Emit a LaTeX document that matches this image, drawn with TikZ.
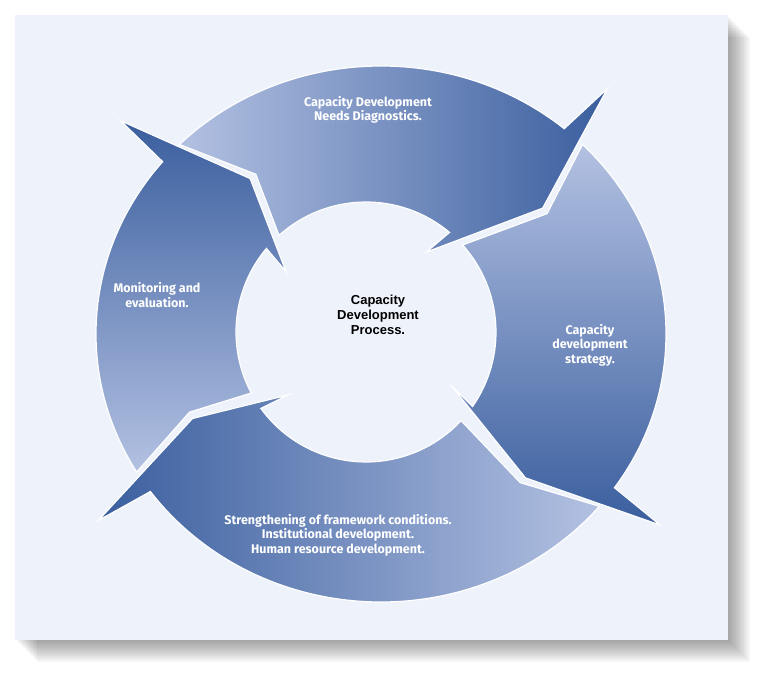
\documentclass[tikz,border=0pt]{standalone}
\usepackage{fontspec}
\setmainfont{Liberation Sans}
\newfontfamily\lbl{Fira Sans}
\usetikzlibrary{calc}
\definecolor{panel}{HTML}{EEF2FA}
\definecolor{light}{HTML}{B3C1E2}
\definecolor{dark}{HTML}{3A5E9E}
\tikzset{
  seg/.style={draw=white, line width=1.2pt},
  lab/.style={text=white, font=\lbl\bfseries\fontsize{12.5}{14.5}\selectfont, align=center},
  ctr/.style={text=black, font=\bfseries\fontsize{13}{15}\selectfont, align=center}
}
\newcommand{\segment}[4]{% prev base, own base, shading angle, name
  \path[seg, shading=axis, top color=light, bottom color=dark, shading angle=#3]
    ($(Co)+({#1-5}:285 and 268)$)
    arc[start angle={#1-5}, end angle={#2}, x radius=285, y radius=268]
    -- ($(Co)+({#2-1}:345 and 325)$) coordinate (#4tipo)
    -- ($(Co)+({#2-11}:208 and 200)$) coordinate (#4tip)
    -- ($(Ci)+({#2+3}:100)$)
    -- ($(Ci)+({#2}:130)$)
    arc[start angle={#2}, end angle={#1-8}, radius=130]
    -- ($(Co)+({#1-13}:208 and 200)$)
    -- cycle;}
\begin{document}
\begin{tikzpicture}[x=1pt,y=1pt]
\useasboundingbox (0,0) rectangle (768,679);
\fill[white] (0,0) rectangle (768,679);
% shadow
\foreach \o in {2,4,...,22}{
  \fill[black,opacity=0.035] (15+\o,39-\o) rectangle (728+\o,664-\o);
}
\fill[panel] (15,39) rectangle (728,664);
\coordinate (Co) at (381,345);
\coordinate (Ci) at (366,347);
\segment{140}{50}{90}{top}
\segment{50}{-35}{0}{right}
\segment{-35}{-144}{270}{bottom}
\segment{216}{140}{180}{left}
\node[lab] (t1) at (368,569) {Capacity Development\\Needs Diagnostics.};
\node[lab] (t2) at (590,334) {Capacity\\development\\strategy.};
\node[lab] (t3) at (338,144) {Strengthening of framework conditions.\\Institutional development.\\Human resource development.};
\node[lab] (t4) at (157,384) {Monitoring and\\evaluation.};
\node[ctr] (c) at (378,364) {Capacity\\Development\\Process.};
\end{tikzpicture}
\end{document}
